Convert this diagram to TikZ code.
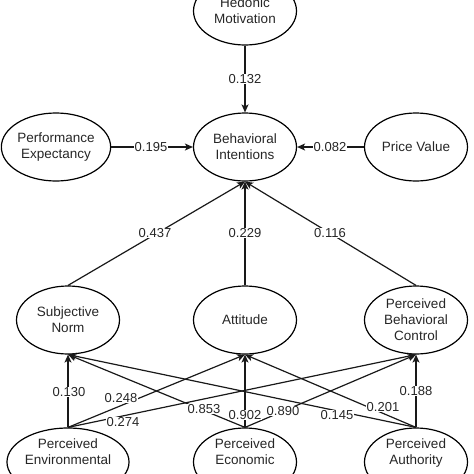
\documentclass[tikz,border=0pt]{standalone}
\usepackage{fontspec}
\setmainfont{Liberation Sans}
\usetikzlibrary{shapes.geometric,arrows.meta}
\tikzset{
  construct/.style={draw=black, line width=1.2pt, ellipse, minimum width=103pt, minimum height=68pt, inner sep=0pt, align=center, font=\fontsize{13.5}{16}\selectfont, text=black!85},
  path/.style={draw=black!90, line width=1.2pt, -{Stealth[length=8pt,width=7pt,inset=2pt]}},
  coef/.style={fill=white, inner sep=0.8pt, font=\fontsize{13}{15}\selectfont, text=black!85}
}
\begin{document}
\begin{tikzpicture}[x=1pt,y=-1pt]
\useasboundingbox (0,0) rectangle (474,474);
% constructs
\node[construct] (hm) at (245,11) {Hedonic\\Motivation};
\node[construct] (pe) at (56,147) {Performance\\Expectancy};
\node[construct] (bi) at (245,147) {Behavioral\\Intentions};
\node[construct] (pv) at (416,147) {Price Value};
\node[construct] (sn) at (68,320) {Subjective\\Norm};
\node[construct] (att) at (245,320) {Attitude};
\node[construct] (pbc) at (416,320) {Perceived\\Behavioral\\Control};
\node[construct] (penv) at (68,462) {Perceived\\Environmental\\\strut};
\node[construct] (peco) at (245,462) {Perceived\\Economic\\\strut};
\node[construct] (pauth) at (416,462) {Perceived\\Authority\\\strut};
% paths to behavioral intentions
\draw[path] (hm.south) -- (bi.north);
\draw[path] (pe.east) -- (bi.west);
\draw[path] (pv.west) -- (bi.east);
\draw[path] (sn.north) -- (bi.south);
\draw[path] (att.north) -- (bi.south);
\draw[path] (pbc.north) -- (bi.south);
% paths from bottom constructs
\draw[path] (penv.north) -- (sn.south);
\draw[path] (penv.north) -- (att.south);
\draw[path] (penv.north) -- (pbc.south);
\draw[path] (peco.north) -- (sn.south);
\draw[path] (peco.north) -- (att.south);
\draw[path] (peco.north) -- (pbc.south);
\draw[path] (pauth.north) -- (sn.south);
\draw[path] (pauth.north) -- (att.south);
\draw[path] (pauth.north) -- (pbc.south);
% coefficients
\node[coef] (c1) at (245,79) {0.132};
\node[coef] (c2) at (151,147) {0.195};
\node[coef] (c3) at (330,147) {0.082};
\node[coef] (c4) at (155,233) {0.437};
\node[coef] (c5) at (245,233) {0.229};
\node[coef] (c6) at (330,233) {0.116};
\node[coef] (c7) at (69,392) {0.130};
\node[coef] (c8) at (121,398) {0.248};
\node[coef] (c9) at (123,422) {0.274};
\node[coef] (c10) at (204,409) {0.853};
\node[coef] (c11) at (245,415) {0.902};
\node[coef] (c12) at (283,411) {0.890};
\node[coef] (c13) at (337,415) {0.145};
\node[coef] (c14) at (383,407) {0.201};
\node[coef] (c15) at (416,391) {0.188};
\end{tikzpicture}
\end{document}
